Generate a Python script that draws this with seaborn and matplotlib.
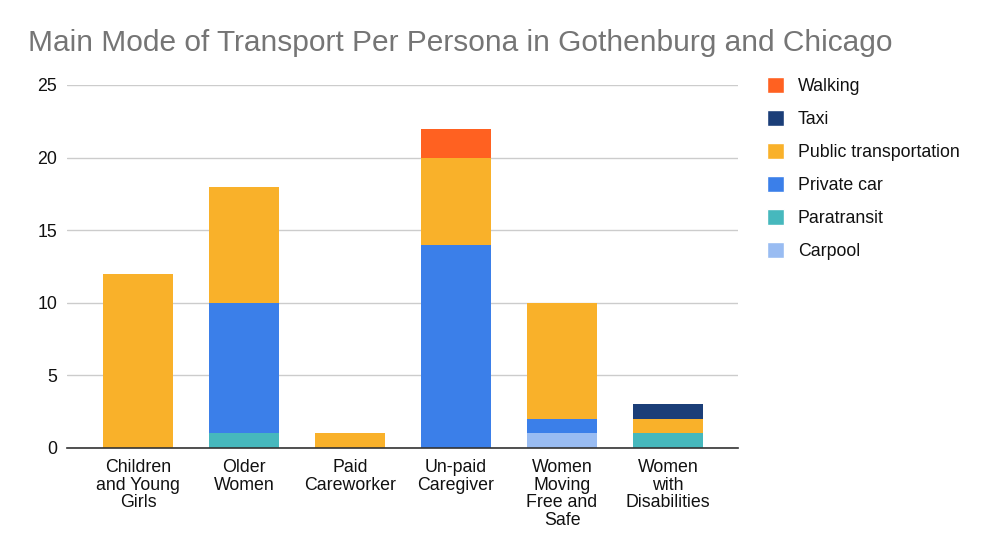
import numpy as np
import pandas as pd
import seaborn as sns
import matplotlib.pyplot as plt
from matplotlib.patches import Patch

sns.set_style("white")
plt.rcParams['font.family'] = ['Liberation Sans', 'DejaVu Sans']

# Data
personas = ["Children\nand Young\nGirls", "Older\nWomen", "Paid\nCareworker",
            "Un-paid\nCaregiver", "Women\nMoving\nFree and\nSafe", "Women\nwith\nDisabilities"]
modes = ["Carpool", "Paratransit", "Private car", "Public transportation", "Taxi", "Walking"]
carpool = [0, 0, 0, 0, 1, 0]
paratransit = [0, 1, 0, 0, 0, 1]
private_car = [0, 9, 0, 14, 1, 0]
public_transport = [12, 8, 1, 6, 8, 1]
taxi = [0, 0, 0, 0, 0, 1]
walking = [0, 0, 0, 2, 0, 0]
colors = ["#99bcf2", "#46b8bd", "#3b7fe9", "#f9b12a", "#1b3e78", "#ff6121"]

df = pd.DataFrame({"persona": personas, "Carpool": carpool, "Paratransit": paratransit,
                   "Private car": private_car, "Public transportation": public_transport,
                   "Taxi": taxi, "Walking": walking})
cum = df[modes].cumsum(axis=1)

fig = plt.figure(figsize=(9.89, 5.57), dpi=100)
ax = fig.add_axes([0.0677, 0.1957, 0.6785, 0.6517])

# layered bars: draw the tallest cumulative first
for mode, col in reversed(list(zip(modes, colors))):
    sns.barplot(x=df["persona"], y=cum[mode], color=col, width=0.66,
                saturation=1, ax=ax, edgecolor="none", zorder=2)

ax.set_ylim(0, 25)
ax.set_yticks([0, 5, 10, 15, 20, 25])
ax.set_xlim(-0.67, 5.66)
ax.yaxis.grid(True, color="#cccccc", linewidth=1, zorder=0)
ax.set_axisbelow(True)
for s in ["top", "right", "left"]:
    ax.spines[s].set_visible(False)
ax.spines["bottom"].set_color("#333333")
ax.spines["bottom"].set_linewidth(1.2)
ax.spines["bottom"].set_zorder(3)
ax.tick_params(axis="both", length=0, labelsize=12.8, colors="#111111")
ax.tick_params(axis="x", pad=8)
ax.tick_params(axis="y", pad=7)
ax.set_xlabel("")
ax.set_ylabel("")
for lab in ax.get_xticklabels():
    lab.set_linespacing(1.05)

fig.text(0.028, 0.922, "Main Mode of Transport Per Persona in Gothenburg and Chicago",
         fontsize=21.5, color="#757575", va="center")

handles = [Patch(facecolor=c, label=m) for m, c in zip(modes, colors)][::-1]
leg = fig.legend(handles=handles, loc="upper left", bbox_to_anchor=(0.768, 0.875),
                 frameon=False, fontsize=12.8, handlelength=1.0, handleheight=1.0,
                 labelspacing=0.84, handletextpad=0.75, borderaxespad=0)
for t in leg.get_texts():
    t.set_color("#111111")

fig.savefig("out.png", dpi=100)
